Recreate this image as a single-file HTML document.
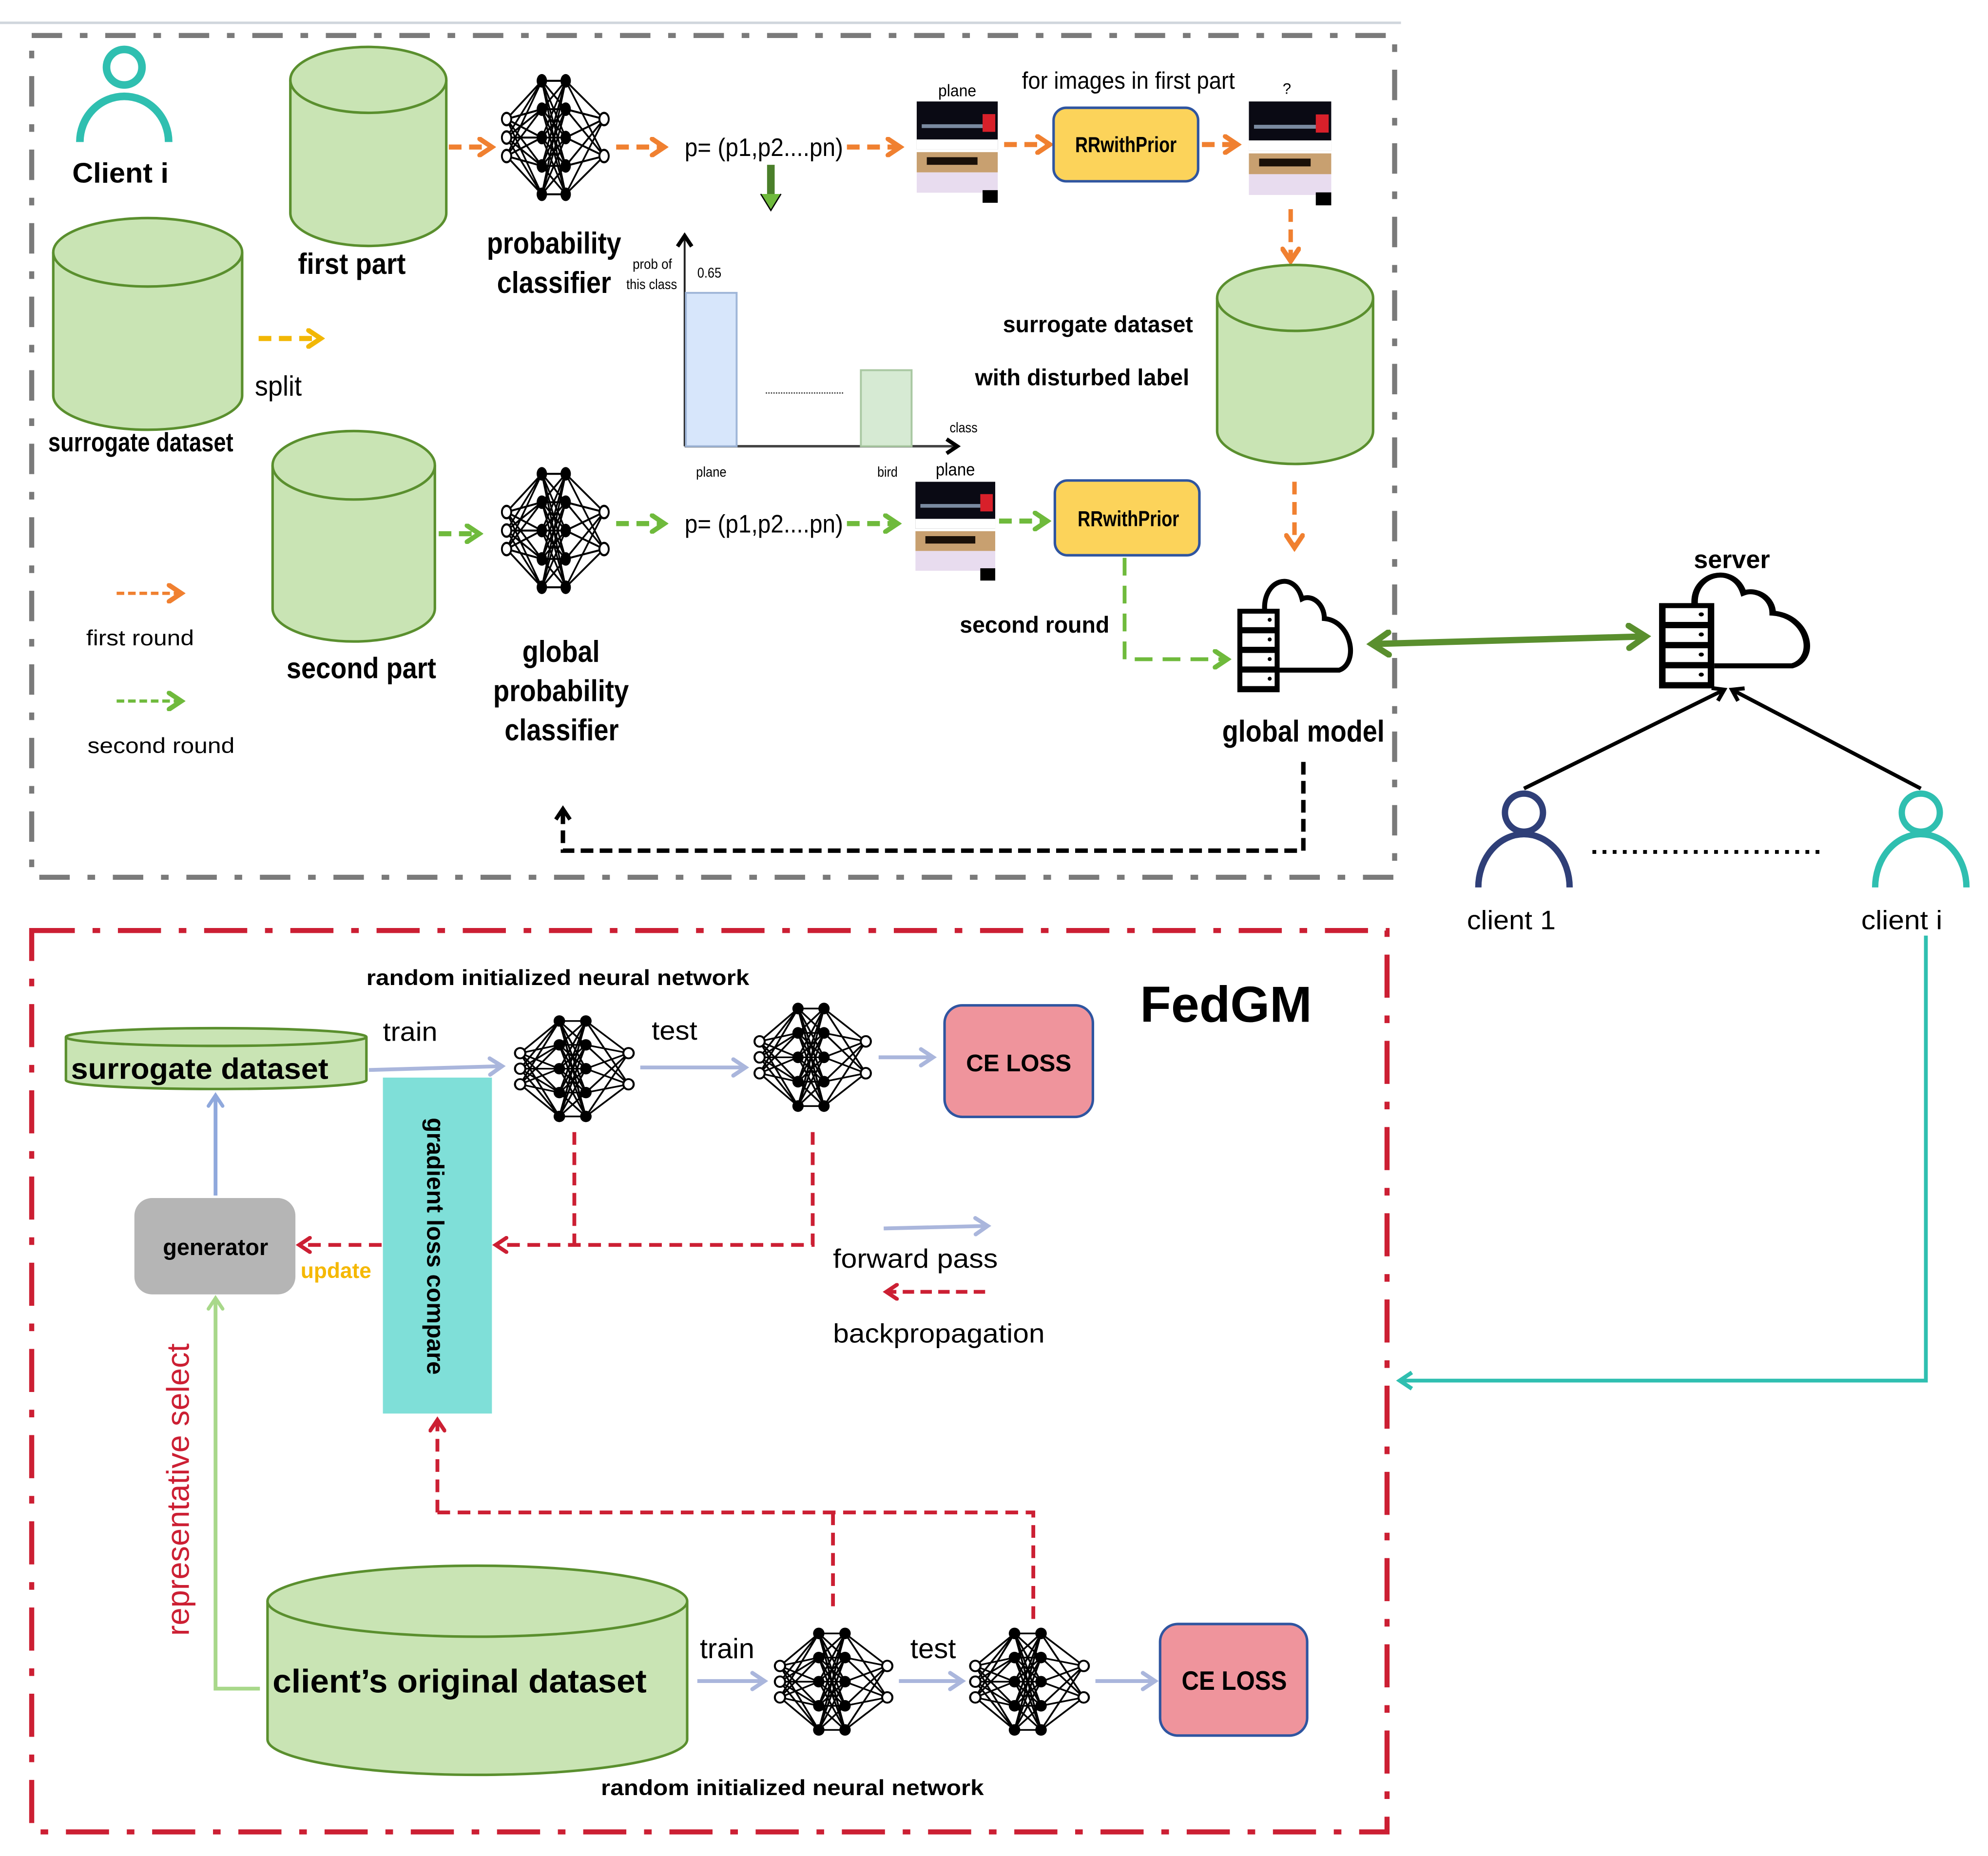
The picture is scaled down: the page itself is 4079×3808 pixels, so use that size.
<!DOCTYPE html>
<html><head><meta charset="utf-8"><style>
html,body{margin:0;padding:0;background:#fff;}
svg{display:block;}
text{font-family:"Liberation Sans",sans-serif;}
</style></head><body>
<svg width="4079" height="3808" viewBox="0 0 1568 1464" preserveAspectRatio="none" xmlns="http://www.w3.org/2000/svg">
<defs>
<marker id="mo" viewBox="0 0 10 10" refX="8" refY="5" markerWidth="16" markerHeight="16" orient="auto" markerUnits="userSpaceOnUse"><path d="M2 1L8 5L2 9" fill="none" stroke="#f08030" stroke-width="2.4" stroke-linecap="round"/></marker>
<marker id="mg" viewBox="0 0 10 10" refX="8" refY="5" markerWidth="16" markerHeight="16" orient="auto" markerUnits="userSpaceOnUse"><path d="M2 1L8 5L2 9" fill="none" stroke="#6fba3c" stroke-width="2.4" stroke-linecap="round"/></marker>
<marker id="my" viewBox="0 0 10 10" refX="8" refY="5" markerWidth="16" markerHeight="16" orient="auto" markerUnits="userSpaceOnUse"><path d="M2 1L8 5L2 9" fill="none" stroke="#f2b705" stroke-width="2.4" stroke-linecap="round"/></marker>
<marker id="mb" viewBox="0 0 10 10" refX="8" refY="5" markerWidth="16" markerHeight="16" orient="auto" markerUnits="userSpaceOnUse"><path d="M2 1L8 5L2 9" fill="none" stroke="#aab6dc" stroke-width="2" stroke-linecap="round"/></marker>
<marker id="mb2" viewBox="0 0 10 10" refX="8" refY="5" markerWidth="14" markerHeight="14" orient="auto" markerUnits="userSpaceOnUse"><path d="M2 1L8 5L2 9" fill="none" stroke="#8fa8dc" stroke-width="2" stroke-linecap="round"/></marker>
<marker id="mlg" viewBox="0 0 10 10" refX="8" refY="5" markerWidth="14" markerHeight="14" orient="auto" markerUnits="userSpaceOnUse"><path d="M2 1L8 5L2 9" fill="none" stroke="#a8d88a" stroke-width="2" stroke-linecap="round"/></marker>
<marker id="mr" viewBox="0 0 10 10" refX="8" refY="5" markerWidth="14" markerHeight="14" orient="auto" markerUnits="userSpaceOnUse"><path d="M2 1L8 5L2 9" fill="none" stroke="#cc1f33" stroke-width="2.2" stroke-linecap="round"/></marker>
<marker id="mk" viewBox="0 0 10 10" refX="8" refY="5" markerWidth="14" markerHeight="14" orient="auto" markerUnits="userSpaceOnUse"><path d="M2 1L8 5L2 9" fill="none" stroke="#000" stroke-width="2.2"/></marker>
<marker id="mt" viewBox="0 0 10 10" refX="8" refY="5" markerWidth="16" markerHeight="16" orient="auto" markerUnits="userSpaceOnUse"><path d="M2 1L8 5L2 9" fill="none" stroke="#2fbfb0" stroke-width="2"/></marker>
<marker id="md" viewBox="0 0 10 10" refX="8" refY="5" markerWidth="22" markerHeight="22" orient="auto-start-reverse" markerUnits="userSpaceOnUse"><path d="M2 1L8 5L2 9" fill="none" stroke="#5a8f2e" stroke-width="2.2" stroke-linecap="round"/></marker>
<symbol id="nn" viewBox="-5 -5 110 110" preserveAspectRatio="none">
<path fill="none" stroke="#000" stroke-width="1.6" d="M3 35L37 4M3 35L37 27M3 35L37 50M3 35L37 73M3 35L37 96M3 50L37 4M3 50L37 27M3 50L37 50M3 50L37 73M3 50L37 96M3 65L37 4M3 65L37 27M3 65L37 50M3 65L37 73M3 65L37 96M37 4L60 4M37 4L60 27M37 4L60 50M37 4L60 73M37 4L60 96M37 27L60 4M37 27L60 27M37 27L60 50M37 27L60 73M37 27L60 96M37 50L60 4M37 50L60 27M37 50L60 50M37 50L60 73M37 50L60 96M37 73L60 4M37 73L60 27M37 73L60 50M37 73L60 73M37 73L60 96M37 96L60 4M37 96L60 27M37 96L60 50M37 96L60 73M37 96L60 96M60 4L97 35M60 27L97 35M60 50L97 35M60 73L97 35M60 96L97 35M60 4L97 65M60 27L97 65M60 50L97 65M60 73L97 65M60 96L97 65"/>
<g fill="#fff" stroke="#000" stroke-width="1.8"><ellipse cx="3" cy="35" rx="4.5" ry="5"/><ellipse cx="3" cy="50" rx="4.5" ry="5"/><ellipse cx="3" cy="65" rx="4.5" ry="5"/><ellipse cx="97" cy="35" rx="4.5" ry="5"/><ellipse cx="97" cy="65" rx="4.5" ry="5"/></g>
<g fill="#000"><ellipse cx="37" cy="4" rx="5" ry="5.5"/><ellipse cx="37" cy="27" rx="5" ry="5.5"/><ellipse cx="37" cy="50" rx="5" ry="5.5"/><ellipse cx="37" cy="73" rx="5" ry="5.5"/><ellipse cx="37" cy="96" rx="5" ry="5.5"/><ellipse cx="60" cy="4" rx="5" ry="5.5"/><ellipse cx="60" cy="27" rx="5" ry="5.5"/><ellipse cx="60" cy="50" rx="5" ry="5.5"/><ellipse cx="60" cy="73" rx="5" ry="5.5"/><ellipse cx="60" cy="96" rx="5" ry="5.5"/></g>
</symbol>
<symbol id="srv" viewBox="0 0 100 95" preserveAspectRatio="none">
<path d="M24 28 C22 2, 48 -6, 54 18 C62 14, 72 22, 72 34 C94 36, 100 70, 84 76 L36 76" fill="none" stroke="#000" stroke-width="4"/>
<rect x="2" y="26" width="34" height="68" fill="#000"/>
<g fill="#fff"><rect x="6" y="30" width="26" height="11"/><rect x="6" y="46" width="26" height="11"/><rect x="6" y="62" width="26" height="11"/><rect x="6" y="78" width="26" height="11"/></g>
<g fill="#000"><circle cx="28" cy="35" r="1.6"/><circle cx="28" cy="51" r="1.6"/><circle cx="28" cy="67" r="1.6"/><circle cx="28" cy="83" r="1.6"/></g>
</symbol>
<symbol id="img" viewBox="0 0 64 80" preserveAspectRatio="none">
<rect x="0" y="0" width="64" height="80" fill="#fff"/>
<rect x="0" y="0" width="64" height="38" fill="#0a0a14"/>
<rect x="4" y="18" width="56" height="3" fill="#7a8aa0"/>
<rect x="52" y="10" width="10" height="14" fill="#d8202a"/>
<rect x="0" y="30" width="64" height="8" fill="#fff"/>
<rect x="0" y="40" width="64" height="16" fill="#c8a070"/>
<rect x="8" y="44" width="40" height="6" fill="#1a1008"/>
<rect x="0" y="56" width="64" height="16" fill="#e8dcef"/>
<rect x="52" y="70" width="12" height="10" fill="#000"/>
</symbol>
</defs>

<line x1="0" y1="18" x2="1105" y2="18" stroke="#d0d6dc" stroke-width="2"/>
<rect x="25" y="28" width="1075" height="664" fill="none" stroke="#7a7a7a" stroke-width="4" stroke-dasharray="24,14,6,14"/>

<circle cx="98" cy="53" r="14" fill="none" stroke="#2fbfb0" stroke-width="6"/>
<path d="M63 112 A35 36 0 0 1 133 112" fill="none" stroke="#2fbfb0" stroke-width="6"/>
<text x="57" y="144" font-size="22" font-weight="bold" textLength="76" lengthAdjust="spacingAndGlyphs">Client i</text>

<path d="M229 63 L229 168 A61.5 26 0 0 0 352 168 L352 63" fill="#c9e4b4" stroke="#5a8f2e" stroke-width="2"/>
<ellipse cx="290.5" cy="63" rx="61.5" ry="26" fill="#c9e4b4" stroke="#5a8f2e" stroke-width="2"/>
<text x="235" y="216" font-size="23" font-weight="bold" textLength="85" lengthAdjust="spacingAndGlyphs">first part</text>

<path d="M42 199 L42 312 A74.5 27 0 0 0 191 312 L191 199" fill="#c9e4b4" stroke="#5a8f2e" stroke-width="2"/>
<ellipse cx="116.5" cy="199" rx="74.5" ry="27" fill="#c9e4b4" stroke="#5a8f2e" stroke-width="2"/>
<text x="38" y="356" font-size="21" font-weight="bold" textLength="146" lengthAdjust="spacingAndGlyphs">surrogate dataset</text>

<line x1="204" y1="267" x2="253" y2="267" stroke="#f2b705" stroke-width="4" stroke-dasharray="10,6" marker-end="url(#my)"/>
<text x="201" y="312" font-size="22" textLength="37" lengthAdjust="spacingAndGlyphs">split</text>

<line x1="354" y1="116" x2="388" y2="116" stroke="#f08030" stroke-width="4" stroke-dasharray="10,6" marker-end="url(#mo)"/>
<use href="#nn" x="393" y="55" width="90" height="107"/>
<text x="384" y="200" font-size="24" font-weight="bold" textLength="106" lengthAdjust="spacingAndGlyphs">probability</text>
<text x="392" y="231" font-size="24" font-weight="bold" textLength="90" lengthAdjust="spacingAndGlyphs">classifier</text>
<line x1="486" y1="116" x2="524" y2="116" stroke="#f08030" stroke-width="4" stroke-dasharray="10,6" marker-end="url(#mo)"/>
<text x="540" y="123" font-size="20" textLength="125" lengthAdjust="spacingAndGlyphs">p=  (p1,p2....pn)</text>
<line x1="668" y1="116" x2="710" y2="116" stroke="#f08030" stroke-width="4" stroke-dasharray="10,6" marker-end="url(#mo)"/>
<use href="#img" x="723" y="80" width="64" height="80"/>
<text x="740" y="76" font-size="13" textLength="30" lengthAdjust="spacingAndGlyphs">plane</text>
<line x1="792" y1="114" x2="828" y2="114" stroke="#f08030" stroke-width="4" stroke-dasharray="10,6" marker-end="url(#mo)"/>
<rect x="831" y="85" width="114" height="58" rx="10" fill="#fcd35a" stroke="#2f55a0" stroke-width="2"/>
<text x="848" y="120" font-size="17" font-weight="bold" textLength="80" lengthAdjust="spacingAndGlyphs">RRwithPrior</text>
<text x="806" y="70" font-size="19" textLength="168" lengthAdjust="spacingAndGlyphs">for images in first part</text>
<line x1="948" y1="114" x2="976" y2="114" stroke="#f08030" stroke-width="4" stroke-dasharray="10,6" marker-end="url(#mo)"/>
<use href="#img" x="985" y="80" width="65" height="82"/>
<text x="1015" y="74" font-size="12" text-anchor="middle">?</text>
<rect x="605" y="130" width="6" height="25" fill="#4a7f2a"/>
<path d="M600 153 L608 166 L616 153" fill="#6fba3c" stroke="#000" stroke-width="1"/>
<line x1="1018" y1="165" x2="1018" y2="206" stroke="#f08030" stroke-width="3.5" stroke-dasharray="10,6" marker-end="url(#mo)"/>

<line x1="540" y1="352" x2="540" y2="186" stroke="#222" stroke-width="1.5" marker-end="url(#mk)"/>
<line x1="540" y1="352" x2="755" y2="352" stroke="#444" stroke-width="2" marker-end="url(#mk)"/>
<rect x="541" y="231" width="40" height="121" fill="#d7e6fb" stroke="#9fb6d8" stroke-width="1.5"/>
<rect x="679" y="292" width="40" height="60" fill="#d6ead3" stroke="#a9c8a2" stroke-width="1.5"/>
<line x1="604" y1="310" x2="665" y2="310" stroke="#333" stroke-width="1" stroke-dasharray="1,1"/>
<text x="550" y="219" font-size="11" textLength="19" lengthAdjust="spacingAndGlyphs">0.65</text>
<text x="499" y="212" font-size="11" textLength="31" lengthAdjust="spacingAndGlyphs">prob of</text>
<text x="494" y="228" font-size="11" textLength="40" lengthAdjust="spacingAndGlyphs">this class</text>
<text x="749" y="341" font-size="11" textLength="22" lengthAdjust="spacingAndGlyphs">class</text>
<text x="549" y="376" font-size="11" textLength="24" lengthAdjust="spacingAndGlyphs">plane</text>
<text x="692" y="376" font-size="11" textLength="16" lengthAdjust="spacingAndGlyphs">bird</text>

<path d="M960 235 L960 340 A61.5 26 0 0 0 1083 340 L1083 235" fill="#c9e4b4" stroke="#5a8f2e" stroke-width="2"/>
<ellipse cx="1021.5" cy="235" rx="61.5" ry="26" fill="#c9e4b4" stroke="#5a8f2e" stroke-width="2"/>
<text x="791" y="262" font-size="18" font-weight="bold" textLength="150" lengthAdjust="spacingAndGlyphs">surrogate dataset</text>
<text x="769" y="304" font-size="18" font-weight="bold" textLength="169" lengthAdjust="spacingAndGlyphs">with disturbed label</text>
<line x1="1021" y1="380" x2="1021" y2="432" stroke="#f08030" stroke-width="3.5" stroke-dasharray="10,6" marker-end="url(#mo)"/>

<path d="M215 367 L215 480 A64 26 0 0 0 343 480 L343 367" fill="#c9e4b4" stroke="#5a8f2e" stroke-width="2"/>
<ellipse cx="279" cy="367" rx="64" ry="27" fill="#c9e4b4" stroke="#5a8f2e" stroke-width="2"/>
<text x="226" y="535" font-size="23" font-weight="bold" textLength="118" lengthAdjust="spacingAndGlyphs">second part</text>

<line x1="346" y1="421" x2="378" y2="421" stroke="#6fba3c" stroke-width="4" stroke-dasharray="10,6" marker-end="url(#mg)"/>
<use href="#nn" x="393" y="365" width="90" height="107"/>
<text x="412" y="522" font-size="24" font-weight="bold" textLength="61" lengthAdjust="spacingAndGlyphs">global</text>
<text x="389" y="553" font-size="24" font-weight="bold" textLength="107" lengthAdjust="spacingAndGlyphs">probability</text>
<text x="398" y="584" font-size="24" font-weight="bold" textLength="90" lengthAdjust="spacingAndGlyphs">classifier</text>
<line x1="486" y1="413" x2="524" y2="413" stroke="#6fba3c" stroke-width="4" stroke-dasharray="10,6" marker-end="url(#mg)"/>
<text x="540" y="420" font-size="20" textLength="125" lengthAdjust="spacingAndGlyphs">p=  (p1,p2....pn)</text>
<line x1="668" y1="413" x2="708" y2="413" stroke="#6fba3c" stroke-width="4" stroke-dasharray="10,6" marker-end="url(#mg)"/>
<use href="#img" x="722" y="380" width="63" height="78"/>
<text x="738" y="375" font-size="14" textLength="31" lengthAdjust="spacingAndGlyphs">plane</text>
<line x1="788" y1="411" x2="826" y2="411" stroke="#6fba3c" stroke-width="4" stroke-dasharray="10,6" marker-end="url(#mg)"/>
<rect x="832" y="379" width="114" height="59" rx="10" fill="#fcd35a" stroke="#2f55a0" stroke-width="2"/>
<text x="850" y="415" font-size="17" font-weight="bold" textLength="80" lengthAdjust="spacingAndGlyphs">RRwithPrior</text>
<text x="757" y="499" font-size="18" font-weight="bold" textLength="118" lengthAdjust="spacingAndGlyphs">second round</text>
<path d="M887 440 L887 520 L968 520" fill="none" stroke="#6fba3c" stroke-width="3" stroke-dasharray="14,8" marker-end="url(#mg)"/>

<use href="#srv" x="974" y="455" width="98" height="92"/>
<text x="964" y="585" font-size="24" font-weight="bold" textLength="128" lengthAdjust="spacingAndGlyphs">global model</text>
<line x1="1082" y1="508" x2="1298" y2="502" stroke="#5a8f2e" stroke-width="5" marker-end="url(#md)" marker-start="url(#md)"/>

<use href="#srv" x="1306" y="450" width="128" height="94"/>
<text x="1366" y="448" font-size="20" font-weight="bold" text-anchor="middle">server</text>
<line x1="1202" y1="622" x2="1360" y2="544" stroke="#000" stroke-width="3" marker-end="url(#mk)"/>
<line x1="1515" y1="622" x2="1366" y2="544" stroke="#000" stroke-width="3" marker-end="url(#mk)"/>
<circle cx="1202" cy="641" r="15" fill="none" stroke="#2f3f78" stroke-width="5"/>
<path d="M1166 700 A36 42 0 0 1 1238 700" fill="none" stroke="#2f3f78" stroke-width="5"/>
<circle cx="1515" cy="641" r="15" fill="none" stroke="#2fbfb0" stroke-width="5"/>
<path d="M1479 700 A36 42 0 0 1 1551 700" fill="none" stroke="#2fbfb0" stroke-width="5"/>
<line x1="1256" y1="672" x2="1440" y2="672" stroke="#000" stroke-width="3" stroke-dasharray="3,5"/>
<text x="1157" y="733" font-size="21" textLength="70" lengthAdjust="spacingAndGlyphs">client 1</text>
<text x="1468" y="733" font-size="21" textLength="64" lengthAdjust="spacingAndGlyphs">client i</text>

<line x1="92" y1="468" x2="143" y2="468" stroke="#f08030" stroke-width="2.5" stroke-dasharray="6,3" marker-end="url(#mo)"/>
<text x="68" y="509" font-size="17" textLength="85" lengthAdjust="spacingAndGlyphs">first round</text>
<line x1="92" y1="553" x2="143" y2="553" stroke="#6fba3c" stroke-width="2.5" stroke-dasharray="6,3" marker-end="url(#mg)"/>
<text x="69" y="594" font-size="17" textLength="116" lengthAdjust="spacingAndGlyphs">second round</text>

<path d="M1028 601 L1028 671 L444 671 L444 638" fill="none" stroke="#000" stroke-width="3.5" stroke-dasharray="10,5" marker-end="url(#mk)"/>

<rect x="25" y="734" width="1069" height="711" fill="none" stroke="#cc1f33" stroke-width="4" stroke-dasharray="34,14,6,14"/>
<path d="M1519 738 L1519 1089 L1104 1089" fill="none" stroke="#2fbfb0" stroke-width="3" marker-end="url(#mt)"/>

<text x="967" y="806" font-size="40" font-weight="bold" text-anchor="middle">FedGM</text>
<text x="289" y="777" font-size="17" font-weight="bold" textLength="302" lengthAdjust="spacingAndGlyphs">random initialized neural network</text>

<path d="M52 818 L52 852 A118.5 7 0 0 0 289 852 L289 818" fill="#c9e4b4" stroke="#5a8f2e" stroke-width="2"/>
<ellipse cx="170.5" cy="818" rx="118.5" ry="7" fill="#c9e4b4" stroke="#5a8f2e" stroke-width="2"/>
<text x="56" y="851" font-size="23" font-weight="bold" textLength="203" lengthAdjust="spacingAndGlyphs">surrogate   dataset</text>

<text x="302" y="821" font-size="21" textLength="43" lengthAdjust="spacingAndGlyphs">train</text>
<line x1="291" y1="844" x2="396" y2="841" stroke="#aab6dc" stroke-width="3" marker-end="url(#mb)"/>
<use href="#nn" x="403" y="798" width="100" height="90"/>
<text x="514" y="820" font-size="21" textLength="36" lengthAdjust="spacingAndGlyphs">test</text>
<line x1="505" y1="842" x2="588" y2="842" stroke="#aab6dc" stroke-width="3" marker-end="url(#mb)"/>
<use href="#nn" x="592" y="788" width="98" height="92"/>
<line x1="693" y1="834" x2="736" y2="834" stroke="#aab6dc" stroke-width="3" marker-end="url(#mb)"/>
<rect x="745" y="793" width="117" height="88" rx="14" fill="#ef949c" stroke="#2f55a0" stroke-width="2"/>
<text x="762" y="845" font-size="19" font-weight="bold" textLength="83" lengthAdjust="spacingAndGlyphs">CE LOSS</text>

<rect x="302" y="850" width="86" height="265" fill="#7fdfd8"/>
<text transform="translate(337,983) rotate(90)" font-size="19" font-weight="bold" text-anchor="middle">gradient loss compare</text>

<rect x="106" y="945" width="127" height="76" rx="14" fill="#b5b5b5"/>
<text x="170" y="990" font-size="18" font-weight="bold" text-anchor="middle">generator</text>
<text x="265" y="1008" font-size="17" font-weight="bold" fill="#f5b800" text-anchor="middle">update</text>
<line x1="170" y1="943" x2="170" y2="864" stroke="#8fa8dc" stroke-width="3" marker-end="url(#mb2)"/>

<path d="M453 893 L453 982" fill="none" stroke="#cc1f33" stroke-width="3" stroke-dasharray="10,6"/>
<path d="M641 893 L641 982 L391 982" fill="none" stroke="#cc1f33" stroke-width="3" stroke-dasharray="10,6" marker-end="url(#mr)"/>
<line x1="301" y1="982" x2="236" y2="982" stroke="#cc1f33" stroke-width="3" stroke-dasharray="10,6" marker-end="url(#mr)"/>

<line x1="697" y1="969" x2="779" y2="967" stroke="#aab6dc" stroke-width="3" marker-end="url(#mb)"/>
<text x="657" y="1000" font-size="21" textLength="130" lengthAdjust="spacingAndGlyphs">forward pass</text>
<line x1="777" y1="1019" x2="699" y2="1019" stroke="#cc1f33" stroke-width="3" stroke-dasharray="9,5" marker-end="url(#mr)"/>
<text x="657" y="1059" font-size="21" textLength="167" lengthAdjust="spacingAndGlyphs">backpropagation</text>

<text transform="translate(149,1175) rotate(-90)" font-size="25" fill="#cc1f33" text-anchor="middle">representative select</text>
<path d="M205 1332 L170 1332 L170 1024" fill="none" stroke="#a8d88a" stroke-width="3" marker-end="url(#mlg)"/>

<path d="M211 1263 L211 1372 A165.5 28 0 0 0 542 1372 L542 1263" fill="#c9e4b4" stroke="#5a8f2e" stroke-width="2"/>
<ellipse cx="376.5" cy="1263" rx="165.5" ry="28" fill="#c9e4b4" stroke="#5a8f2e" stroke-width="2"/>
<text x="215" y="1335" font-size="26" font-weight="bold" textLength="295" lengthAdjust="spacingAndGlyphs">client’s original dataset</text>

<path d="M345 1193 L345 1120" fill="none" stroke="#cc1f33" stroke-width="3" stroke-dasharray="10,6" marker-end="url(#mr)"/>
<path d="M345 1193 L815 1193 L815 1280" fill="none" stroke="#cc1f33" stroke-width="3" stroke-dasharray="10,6"/>
<path d="M657 1193 L657 1270" fill="none" stroke="#cc1f33" stroke-width="3" stroke-dasharray="10,6"/>

<text x="552" y="1308" font-size="22" textLength="43" lengthAdjust="spacingAndGlyphs">train</text>
<line x1="550" y1="1326" x2="603" y2="1326" stroke="#aab6dc" stroke-width="3" marker-end="url(#mb)"/>
<use href="#nn" x="608" y="1281" width="99" height="91"/>
<text x="718" y="1308" font-size="22" textLength="36" lengthAdjust="spacingAndGlyphs">test</text>
<line x1="709" y1="1326" x2="759" y2="1326" stroke="#aab6dc" stroke-width="3" marker-end="url(#mb)"/>
<use href="#nn" x="762" y="1281" width="100" height="91"/>
<line x1="864" y1="1326" x2="911" y2="1326" stroke="#aab6dc" stroke-width="3" marker-end="url(#mb)"/>
<rect x="915" y="1281" width="116" height="88" rx="14" fill="#ef949c" stroke="#2f55a0" stroke-width="2"/>
<text x="932" y="1333" font-size="21" font-weight="bold" textLength="83" lengthAdjust="spacingAndGlyphs">CE LOSS</text>
<text x="474" y="1416" font-size="17" font-weight="bold" textLength="302" lengthAdjust="spacingAndGlyphs">random initialized neural network</text>
</svg>
</body></html>
